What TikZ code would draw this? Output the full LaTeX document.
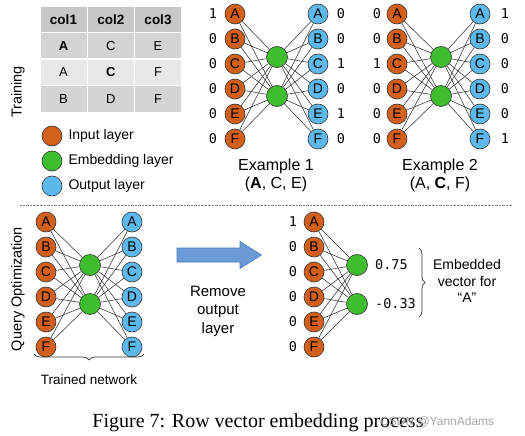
\documentclass[tikz,border=0pt]{standalone}
\usepackage{fontspec}
\setmainfont{Liberation Sans}
\newfontfamily\monof{DejaVu Sans Mono}
\newfontfamily\seriff{Liberation Serif}
\usetikzlibrary{decorations.pathreplacing}
\definecolor{inorange}{HTML}{D2601A}
\definecolor{embgreen}{HTML}{3EBE2E}
\definecolor{outblue}{HTML}{5DB8EC}
\definecolor{hdrgray}{gray}{0.78}
\definecolor{rowgray}{gray}{0.83}
\definecolor{rowlight}{gray}{0.91}
\definecolor{arrfill}{HTML}{6B9BD5}
\definecolor{arrdraw}{HTML}{4C7DB8}
\tikzset{
  neuron/.style={circle,draw=black!80,line width=0.6pt,minimum size=20pt,inner sep=0pt,font=\fontsize{14}{14}\selectfont},
  innode/.style={neuron,fill=inorange},
  embnode/.style={neuron,fill=embgreen,minimum size=21pt},
  outnode/.style={neuron,fill=outblue},
  legnode/.style={neuron,minimum size=20pt},
  edge/.style={draw=black!80,line width=0.55pt},
  numtxt/.style={font=\monof\fontsize{13.5}{13.5}\selectfont},
  lbl/.style={font=\fontsize{14}{16}\selectfont,align=center},
  exlbl/.style={font=\fontsize{16}{16}\selectfont},
  cell/.style={minimum width=47pt,minimum height=26pt,inner sep=0pt,draw=white,line width=1pt,font=\fontsize{13}{13}\selectfont},
}
\begin{document}
\begin{tikzpicture}[x=1pt,y=-1pt]
\useasboundingbox (0,0) rectangle (525,436);
% table
\foreach \c/\x in {col1/63.5,col2/110.8,col3/158}{
  \node[cell,fill=hdrgray,font=\bfseries\fontsize{13.5}{13.5}\selectfont] (h\c) at (\x,20) {\c};
}
\node[cell,fill=rowgray] (r1a) at (63.5,46) {\textbf{A}};
\node[cell,fill=rowgray] (r1b) at (110.8,46) {C};
\node[cell,fill=rowgray] (r1c) at (158,46) {E};
\node[cell,fill=rowlight] (r2a) at (63.5,72.5) {A};
\node[cell,fill=rowlight] (r2b) at (110.8,72.5) {\textbf{C}};
\node[cell,fill=rowlight] (r2c) at (158,72.5) {F};
\node[cell,fill=rowgray] (r3a) at (63.5,99) {B};
\node[cell,fill=rowgray] (r3b) at (110.8,99) {D};
\node[cell,fill=rowgray] (r3c) at (158,99) {F};
% side labels
\node[lbl,rotate=90,font=\fontsize{14.5}{16}\selectfont] (trainlbl) at (18,92) {Training};
\node[lbl,rotate=90,font=\fontsize{14.5}{16}\selectfont] (qolbl) at (18,289) {Query Optimization};
% legend
\node[legnode,fill=inorange] (l1) at (52,136) {};
\node[legnode,fill=embgreen] (l2) at (52,161) {};
\node[legnode,fill=outblue] (l3) at (52,186) {};
\node[lbl,anchor=west] (l1t) at (65,136) {Input layer};
\node[lbl,anchor=west] (l2t) at (65,161) {Embedding layer};
\node[lbl,anchor=west] (l3t) at (65,186) {Output layer};
% networks
\foreach \L [count=\i from 0] in {A,B,C,D,E,F}{
  \node[innode] (e1i\L) at (235,14+25*\i) {\L};
  \node[outnode] (e1o\L) at (318,14+25*\i) {\L};
  \node[innode] (e2i\L) at (397,14+25*\i) {\L};
  \node[outnode] (e2o\L) at (480,14+25*\i) {\L};
  \node[innode] (qi\L) at (46,222+25*\i) {\L};
  \node[outnode] (qo\L) at (132,222+25*\i) {\L};
  \node[innode] (ri\L) at (314,222+25*\i) {\L};
}
\node[embnode] (e1h1) at (277,57) {};
\node[embnode] (e1h2) at (277,96) {};
\node[embnode] (e2h1) at (441,57) {};
\node[embnode] (e2h2) at (441,96) {};
\node[embnode] (qh1) at (90,265) {};
\node[embnode] (qh2) at (90,304) {};
\node[embnode] (rh1) at (357,265) {};
\node[embnode] (rh2) at (357,304) {};
\foreach \L in {A,B,C,D,E,F}{
  \foreach \h in {1,2}{
    \draw[edge] (e1i\L) -- (e1h\h);
    \draw[edge] (e1h\h) -- (e1o\L);
    \draw[edge] (e2i\L) -- (e2h\h);
    \draw[edge] (e2h\h) -- (e2o\L);
    \draw[edge] (qi\L) -- (qh\h);
    \draw[edge] (qh\h) -- (qo\L);
    \draw[edge] (ri\L) -- (rh\h);
  }
}
% numbers
\foreach \v [count=\i from 0] in {1,0,0,0,0,0}{\node[numtxt] (n1i\i) at (213,14+25*\i) {\v};}
\foreach \v [count=\i from 0] in {0,0,1,0,1,0}{\node[numtxt] (n1o\i) at (341,14+25*\i) {\v};}
\foreach \v [count=\i from 0] in {0,0,1,0,0,0}{\node[numtxt] (n2i\i) at (377,14+25*\i) {\v};}
\foreach \v [count=\i from 0] in {1,0,0,0,0,1}{\node[numtxt] (n2o\i) at (505,14+25*\i) {\v};}
\foreach \v [count=\i from 0] in {1,0,0,0,0,0}{\node[numtxt] (nri\i) at (293,222+25*\i) {\v};}
% example labels
\node[exlbl] (ex1) at (276,166) {Example 1};
\node[exlbl] (ex1b) at (276,184) {(\textbf{A}, C, E)};
\node[exlbl] (ex2) at (440,166) {Example 2};
\node[exlbl] (ex2b) at (440,184) {(A, \textbf{C}, F)};
% separator
\draw[gray,line width=0.8pt,dash pattern=on 0.7pt off 0.7pt] (20,205) coordinate (sepL) -- (512,205) coordinate (sepR);
% trained network brace
\coordinate (brL) at (34,354);
\coordinate (brR) at (144,354);
\draw[black!80,line width=0.7pt,decorate,decoration={brace,amplitude=6pt,mirror}] (brL) -- (brR);
\node[lbl,font=\fontsize{13.5}{15}\selectfont] (tn) at (89,380) {Trained network};
% arrow (block shape)
\draw[fill=arrfill,draw=arrdraw,line width=0.6pt,line join=miter]
  (177,248) -- (240,248) -- (240,241.5) -- (261.5,255) -- (240,268.5) -- (240,262) -- (177,262) -- cycle;
\node[lbl,font=\fontsize{15}{18.5}\selectfont] (rm) at (218,311) {Remove\\output\\layer};
% embedded values
\node[numtxt,anchor=west,inner sep=0pt] (v1) at (375,265) {0.75};
\node[numtxt,anchor=west,inner sep=0pt] (v2) at (375,304) {-0.33};
\coordinate (b2t) at (419,248);
\coordinate (b2b) at (419,317);
\draw[black!80,line width=0.7pt,decorate,decoration={brace,amplitude=6pt}] (b2t) -- (b2b);
\node[lbl,font=\fontsize{14}{16.5}\selectfont] (emb) at (467,281) {Embedded\\vector for\\“A”};
% caption
\node[font=\seriff\fontsize{20}{20}\selectfont,anchor=base] (cap) at (258,427) {Figure 7: Row vector embedding process};
\node[font=\fontsize{12}{12}\selectfont,text=gray!70,anchor=base west,inner sep=0pt] (wm) at (380,425) {CSDN @YannAdams};
\end{tikzpicture}
\end{document}
